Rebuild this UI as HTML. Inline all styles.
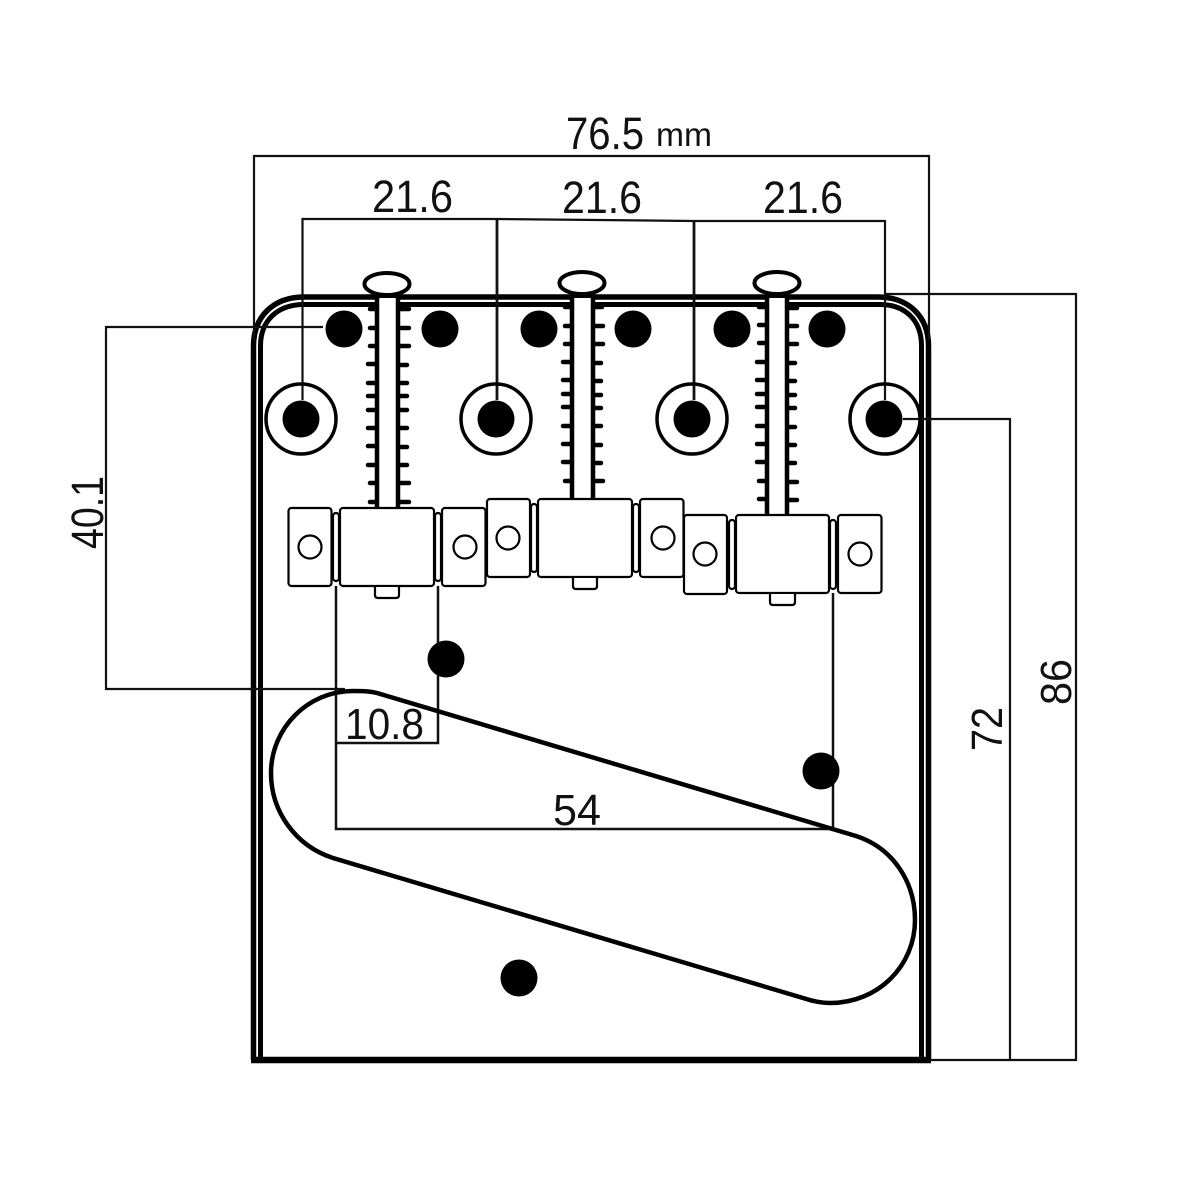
<!DOCTYPE html>
<html>
<head>
<meta charset="utf-8">
<style>
html,body{margin:0;padding:0;background:#fff}
svg{display:block}
text{font-family:"Liberation Sans",sans-serif;fill:#111}
</style>
</head>
<body>
<svg width="1200" height="1200" viewBox="0 0 1200 1200" xmlns="http://www.w3.org/2000/svg">
<rect width="1200" height="1200" fill="#fff"/>

<!-- plate -->
<g fill="none" stroke="#000">
  <path d="M253.500 1060 V346 C253.500 316 274 297 304 297 H878 C908 297 928.500 316 928.500 346 V1060" stroke-width="5.500"/>
  <path d="M260.500 1060 V346 C260.500 320 278 304.500 304 304.500 H880 C905 304.500 921.500 320 921.500 346 V1060" stroke-width="5"/>
  <path d="M251 1060 H931" stroke-width="6.500"/>
</g>

<!-- dimension lines -->
<g fill="none" stroke="#111" stroke-width="2.200">
  <path d="M254 340 V156 H929 V340"/>
  <path d="M302.500 400 V219 H497 L694 221 H885 V400"/>
  <path d="M497 220 V400 M694 221 V400" stroke-width="2.800"/>
  <path d="M323 327 H106 V689 H345"/>
  <path d="M885 294 H1076 V1060 H930"/>
  <path d="M903 419 H1010 V1060"/>
  <path d="M336 586 V829 H833 V593" stroke-width="2.500"/>
  <path d="M336 743 H438 V586" stroke-width="2.500"/>
</g>

<!-- slot -->
<path d="M377 693 L856 836 C893 848 915 882 915 920 C915 966 878 1003 830 1003 C820 1003 812 1001 803 998 L333 858 C296 846 271 812 271 773 C271 728 308 691 353 691 C362 691 369 691 377 693 Z" fill="none" stroke="#000" stroke-width="4.500"/>

<!-- mounting rings -->
<g fill="none" stroke="#000" stroke-width="3.500">
  <circle cx="301" cy="419" r="35"/>
  <circle cx="496" cy="419" r="35"/>
  <circle cx="692" cy="419" r="35"/>
  <circle cx="885" cy="419" r="35"/>
</g>
<!-- dots -->
<g fill="#000">
  <circle cx="301" cy="419" r="18.500"/>
  <circle cx="496" cy="419" r="18.500"/>
  <circle cx="692" cy="419" r="18.500"/>
  <circle cx="884" cy="419" r="18.500"/>
  <circle cx="344" cy="329" r="18.500"/>
  <circle cx="440" cy="329" r="18.500"/>
  <circle cx="539" cy="329" r="18.500"/>
  <circle cx="633" cy="329" r="18.500"/>
  <circle cx="732" cy="329" r="18.500"/>
  <circle cx="827" cy="329" r="18.500"/>
  <circle cx="446" cy="659" r="18.500"/>
  <circle cx="821" cy="771" r="18.500"/>
  <circle cx="519" cy="978" r="18.500"/>
</g>

<!-- screw 1 -->
<g stroke="#000" fill="none">
  <ellipse cx="387" cy="284" rx="22.500" ry="11" stroke-width="4" fill="#fff"/>
  <path d="M370 309H377M370 328H377M370 346H377M368 364H377M368 383H377M368 396H377M368 410H377M368 428H377M368 446H377M368 465H377M370 483H377M370 502H377" stroke-width="4.500" stroke-linecap="round"/>
  <path d="M398 309H409M398 328H409M398 346H409M398 365H407M398 383H407M398 396H407M398 410H407M398 428H407M398 447H407M398 465H407M398 483H409M398 502H409" stroke-width="4.500" stroke-linecap="round"/>
  <rect x="377" y="298" width="21" height="212" fill="#fff" stroke="none"/>
  <path d="M377 297V509M398 297V509" stroke-width="4.500"/>
</g>
<!-- screw 2 -->
<g stroke="#000" fill="none">
  <ellipse cx="582" cy="283" rx="22.500" ry="11" stroke-width="4" fill="#fff"/>
  <path d="M565 307H572M565 326H572M565 344H572M563 362H572M563 380H572M563 394H572M563 407H572M563 426H572M563 444H572M563 462H572M565 481H572" stroke-width="4.500" stroke-linecap="round"/>
  <path d="M593 307H602M593 326H603M593 344H603M593 363H601M593 381H601M593 395H601M593 408H601M593 426H601M593 445H601M593 463H601M593 481H603" stroke-width="4.500" stroke-linecap="round"/>
  <rect x="572" y="298" width="21" height="203" fill="#fff" stroke="none"/>
  <path d="M572 297V500M593 297V500" stroke-width="4.500"/>
</g>
<!-- screw 3 -->
<g stroke="#000" fill="none">
  <ellipse cx="777" cy="283" rx="22.500" ry="11" stroke-width="4" fill="#fff"/>
  <path d="M759 307H767M759 325H767M759 343H767M757 362H767M757 380H767M757 394H767M757 407H767M757 426H767M757 444H767M757 462H767M759 481H767M759 499H767" stroke-width="4.500" stroke-linecap="round"/>
  <path d="M787 308H797M787 326H797M787 344H797M787 363H795M787 381H795M787 395H795M787 408H795M787 427H795M787 445H795M787 463H795M787 482H797M787 500H797" stroke-width="4.500" stroke-linecap="round"/>
  <rect x="767" y="298" width="20" height="219" fill="#fff" stroke="none"/>
  <path d="M767 297V516M787 297V516" stroke-width="4.500"/>
</g>

<!-- saddles -->
<g fill="#fff" stroke="#000" stroke-width="2.200">
  <g>
    <rect x="288.500" y="508" width="43" height="78" rx="3"/>
    <rect x="333" y="513" width="6" height="68" rx="3"/>
    <rect x="340" y="508" width="94" height="78" rx="3"/>
    <rect x="435" y="513" width="6" height="68" rx="3"/>
    <rect x="442" y="508" width="43.500" height="78" rx="3"/>
    <circle cx="310" cy="547" r="11.500"/>
    <circle cx="465" cy="547" r="11.500"/>
    <path d="M375 587 V595 Q375 598 378 598 H396 Q399 598 399 595 V587"/>
  </g>
  <g>
    <rect x="487" y="499" width="43" height="78" rx="3"/>
    <rect x="531" y="504" width="6" height="68" rx="3"/>
    <rect x="538" y="499" width="94" height="78" rx="3"/>
    <rect x="633" y="504" width="6" height="68" rx="3"/>
    <rect x="640" y="499" width="43.500" height="78" rx="3"/>
    <circle cx="508" cy="538" r="11.500"/>
    <circle cx="663" cy="538" r="11.500"/>
    <path d="M573 578 V586 Q573 589 576 589 H594 Q597 589 597 586 V578"/>
  </g>
  <g>
    <rect x="684" y="515" width="43" height="79" rx="3"/>
    <rect x="729" y="520" width="6" height="69" rx="3"/>
    <rect x="736" y="515" width="93" height="78" rx="3"/>
    <rect x="830" y="520" width="6" height="69" rx="3"/>
    <rect x="838" y="515" width="43.500" height="78" rx="3"/>
    <circle cx="705" cy="554" r="11.500"/>
    <circle cx="860" cy="554" r="11.500"/>
    <path d="M770 594 V602 Q770 605 773 605 H792 Q795 605 795 602 V594"/>
  </g>
</g>

<!-- labels -->
<text x="566" y="149" font-size="45" textLength="78" lengthAdjust="spacingAndGlyphs">76.5</text>
<text x="656" y="146" font-size="33" textLength="56" lengthAdjust="spacingAndGlyphs">mm</text>
<text x="372" y="212" font-size="45" textLength="81" lengthAdjust="spacingAndGlyphs">21.6</text>
<text x="562" y="213" font-size="45" textLength="80" lengthAdjust="spacingAndGlyphs">21.6</text>
<text x="763" y="213" font-size="45" textLength="80" lengthAdjust="spacingAndGlyphs">21.6</text>
<text x="345" y="739" font-size="44" textLength="79" lengthAdjust="spacingAndGlyphs">10.8</text>
<text x="553" y="825" font-size="44" textLength="48" lengthAdjust="spacingAndGlyphs">54</text>
<text transform="translate(1002 751) rotate(-90)" font-size="44" textLength="44" lengthAdjust="spacingAndGlyphs">72</text>
<text transform="translate(1071 705) rotate(-90)" font-size="44" textLength="46" lengthAdjust="spacingAndGlyphs">86</text>
<text transform="translate(103 549) rotate(-90)" font-size="45" textLength="73" lengthAdjust="spacingAndGlyphs">40.1</text>
</svg>
</body>
</html>
